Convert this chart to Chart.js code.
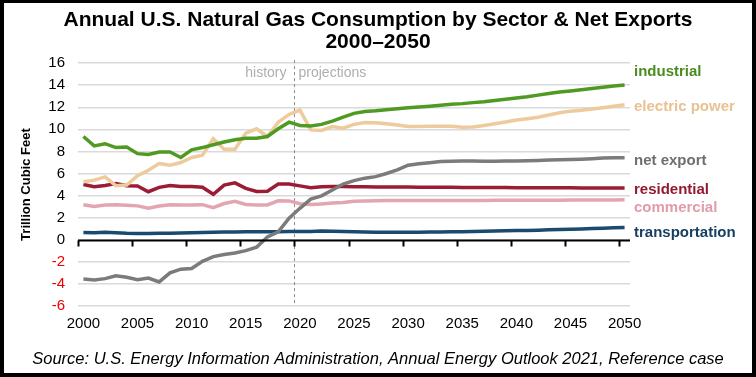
<!DOCTYPE html>
<html>
<head>
<meta charset="utf-8">
<script src="https://cdn.jsdelivr.net/npm/chart.js@4.4.1/dist/chart.umd.min.js"></script>
<style>
  html, body { margin: 0; padding: 0; background: #fff; }
  #frame { width: 756px; height: 377px; box-sizing: border-box; border: 4px solid #000; border-top-width: 3px; background: #fff; }
  canvas { display: block; }
</style>
</head>
<body>
<div id="frame"><canvas id="gasChart" width="748" height="370"></canvas></div>
<script>
// Categories (years) and series, trillion cubic feet
const years = [
    '2000', '2001', '2002', '2003', '2004', '2005', '2006', '2007', '2008', '2009',
    '2010', '2011', '2012', '2013', '2014', '2015', '2016', '2017', '2018', '2019',
    '2020', '2021', '2022', '2023', '2024', '2025', '2026', '2027', '2028', '2029',
    '2030', '2031', '2032', '2033', '2034', '2035', '2036', '2037', '2038', '2039',
    '2040', '2041', '2042', '2043', '2044', '2045', '2046', '2047', '2048', '2049',
    '2050'
];
const industrial = [
    9.35, 8.5, 8.7, 8.35, 8.4, 7.8, 7.72, 7.95, 7.95, 7.45,
    8.15, 8.35, 8.6, 8.85, 9.05, 9.2, 9.2, 9.35, 10.05, 10.65,
    10.35, 10.3, 10.45, 10.75, 11.1, 11.45, 11.62, 11.68, 11.78, 11.87,
    11.95, 12.03, 12.1, 12.18, 12.27, 12.33, 12.42, 12.5, 12.62, 12.72,
    12.84, 12.95, 13.1, 13.25, 13.38, 13.48, 13.58, 13.7, 13.82, 13.92,
    14.02
];
const electricPower = [
    5.25, 5.4, 5.7, 4.9, 4.95, 5.8, 6.3, 6.9, 6.75, 7.0,
    7.45, 7.65, 9.15, 8.2, 8.2, 9.65, 10.05, 9.35, 10.65, 11.35,
    11.75, 9.95, 9.9, 10.25, 10.1, 10.45, 10.62, 10.6, 10.5, 10.4,
    10.25, 10.25, 10.28, 10.28, 10.28, 10.18, 10.22, 10.35, 10.5, 10.67,
    10.85, 10.97, 11.09, 11.3, 11.5, 11.65, 11.72, 11.84, 11.96, 12.1,
    12.22
];
const netExport = [
    -3.56, -3.65, -3.52, -3.27, -3.4, -3.62, -3.47, -3.82, -3.0, -2.66,
    -2.6, -1.95, -1.52, -1.33, -1.2, -0.98, -0.68, 0.25, 0.72, 1.95,
    2.85, 3.68, 3.98, 4.5, 5.05, 5.36, 5.58, 5.72, 6.0, 6.33,
    6.75, 6.88, 6.98, 7.08, 7.12, 7.13, 7.13, 7.12, 7.12, 7.13,
    7.14, 7.16, 7.18, 7.22, 7.25, 7.28, 7.3, 7.34, 7.4, 7.42,
    7.42
];
const residential = [
    5.0, 4.8, 4.92, 5.1, 4.9, 4.88, 4.35, 4.75, 4.92, 4.82,
    4.82, 4.75, 4.12, 4.95, 5.15, 4.65, 4.37, 4.4, 5.05, 5.05,
    4.88, 4.72, 4.8, 4.82, 4.82, 4.8, 4.8, 4.79, 4.78, 4.78,
    4.77, 4.76, 4.76, 4.75, 4.75, 4.74, 4.74, 4.73, 4.73, 4.73,
    4.72, 4.72, 4.72, 4.71, 4.71, 4.71, 4.7, 4.7, 4.7, 4.7,
    4.7
];
const commercial = [
    3.18, 3.02, 3.15, 3.18, 3.13, 3.07, 2.85, 3.05, 3.18, 3.14,
    3.14, 3.18, 2.9, 3.28, 3.48, 3.2, 3.15, 3.16, 3.53, 3.52,
    3.27, 3.2, 3.25, 3.32, 3.38, 3.48, 3.52, 3.54, 3.55, 3.55,
    3.55, 3.55, 3.55, 3.55, 3.55, 3.55, 3.56, 3.56, 3.57, 3.57,
    3.58, 3.58, 3.58, 3.59, 3.59, 3.6, 3.6, 3.6, 3.61, 3.61,
    3.62
];
const transportation = [
    0.66, 0.64, 0.67, 0.63, 0.58, 0.56, 0.56, 0.58, 0.6, 0.62,
    0.64, 0.66, 0.68, 0.7, 0.7, 0.72, 0.72, 0.72, 0.72, 0.75,
    0.74, 0.76, 0.8, 0.78, 0.76, 0.72, 0.7, 0.68, 0.68, 0.68,
    0.68, 0.69, 0.7, 0.71, 0.72, 0.73, 0.75, 0.77, 0.79, 0.81,
    0.83, 0.85, 0.87, 0.9, 0.92, 0.95, 0.98, 1.01, 1.04, 1.08,
    1.12
];
const lastHistoryYear = '2019';

const FONT = "'Liberation Sans', Arial, sans-serif";
const NARROW = "'Liberation Sans Narrow', 'Liberation Sans', Arial, sans-serif";

// line colour, label colour and label baseline offset (px from the last point)
const series = [
    { name: 'industrial', data: industrial, line: '#4f9a22', text: '#4a8c1f', dy: -9 },
    { name: 'electric power', data: electricPower, line: '#edcb9c', text: '#e8c292', dy: 6 },
    { name: 'net export', data: netExport, line: '#7b7b7b', text: '#6f6f6f', dy: 7 },
    { name: 'residential', data: residential, line: '#9a1c35', text: '#921a31', dy: 6 },
    { name: 'commercial', data: commercial, line: '#e3a6b1', text: '#e19cab', dy: 12 },
    { name: 'transportation', data: transportation, line: '#1b4a6f', text: '#173f61', dy: 10 }
];

// history | projections divider
const dividerPlugin = {
    id: 'divider',
    beforeDatasetsDraw(chart) {
        const { ctx, chartArea, scales } = chart;
        const i = years.indexOf(lastHistoryYear);
        const x = Math.round((scales.x.getPixelForValue(i) + scales.x.getPixelForValue(i + 1)) / 2) + 0.5;
        ctx.save();
        ctx.strokeStyle = '#8a8a8a';
        ctx.lineWidth = 1;
        ctx.setLineDash([3, 3]);
        ctx.beginPath();
        ctx.moveTo(x, chartArea.top - 3);
        ctx.lineTo(x, chartArea.bottom);
        ctx.stroke();
        ctx.setLineDash([]);
        ctx.font = '14px ' + FONT;
        ctx.fillStyle = '#aeaeae';
        ctx.textBaseline = 'alphabetic';
        ctx.textAlign = 'right';
        ctx.fillText('history', x - 8, chartArea.top + 13.5);
        ctx.textAlign = 'left';
        ctx.fillText('projections', x + 4, chartArea.top + 13.5);
        ctx.restore();
    }
};

// series names at the right end of each line, plus the black zero axis with
// tick marks between categories every 5 years
const endLabelPlugin = {
    id: 'endLabels',
    afterDatasetsDraw(chart) {
        const { ctx, chartArea, scales } = chart;
        const xs = scales.x;
        const y0 = Math.round(scales.y.getPixelForValue(0)) + 0.5;
        const half = (xs.getPixelForValue(1) - xs.getPixelForValue(0)) / 2;
        ctx.save();
        ctx.strokeStyle = '#000';
        ctx.lineWidth = 2;
        ctx.beginPath();
        ctx.moveTo(chartArea.left, y0);
        ctx.lineTo(chartArea.right, y0);
        for (let i = 0; i < years.length; i += 5) {
            const px = Math.round(xs.getPixelForValue(i) - half) + 0.5;
            ctx.moveTo(px, y0);
            ctx.lineTo(px, y0 + 6);
        }
        ctx.stroke();

        ctx.font = 'bold 15px ' + FONT;
        ctx.textAlign = 'left';
        ctx.textBaseline = 'alphabetic';
        series.forEach(s => {
            const y = scales.y.getPixelForValue(s.data[s.data.length - 1]);
            ctx.fillStyle = s.text;
            ctx.fillText(s.name, chartArea.right + 4, y + s.dy);
        });
        ctx.restore();
    }
};

const initGasChart = () => {
    const ctx = document.getElementById('gasChart').getContext('2d');
    new Chart(ctx, {
        type: 'line',
        data: {
            labels: years,
            datasets: series.map(s => ({
                label: s.name,
                data: s.data,
                borderColor: s.line,
                backgroundColor: s.line,
                borderWidth: 3.5,
                pointRadius: 0,
                tension: 0,
                fill: false
            }))
        },
        options: {
            responsive: false,
            animation: false,
            devicePixelRatio: 1,
            layout: { padding: 0 },
            plugins: {
                legend: { display: false },
                tooltip: { enabled: false },
                title: {
                    display: true,
                    text: ['Annual U.S. Natural Gas Consumption by Sector & Net Exports', '2000\u20132050'],
                    color: '#000',
                    font: { family: NARROW, size: 21, weight: 'bold', lineHeight: 1.05 },
                    padding: { top: 6, bottom: 10 }
                },
                subtitle: {
                    display: true,
                    position: 'bottom',
                    text: 'Source: U.S. Energy Information Administration, Annual Energy Outlook 2021, Reference case',
                    color: '#000',
                    font: { family: FONT, size: 16.5, style: 'italic', lineHeight: 1.15 },
                    padding: { top: 0, bottom: 4 }
                }
            },
            scales: {
                x: {
                    type: 'category',
                    offset: true,
                    grid: { display: false, drawTicks: false },
                    border: { display: false },
                    ticks: {
                        autoSkip: false,
                        maxRotation: 0,
                        padding: 9,
                        color: '#000',
                        font: { family: FONT, size: 15 },
                        callback: function (value, index) {
                            return index % 5 === 0 ? this.getLabelForValue(value) : null;
                        }
                    },
                    afterFit: scale => { scale.height = 44; }
                },
                y: {
                    min: -6,
                    max: 16,
                    ticks: {
                        stepSize: 2,
                        padding: 13,
                        font: { family: FONT, size: 15 },
                        color: c => (c.tick.value < 0 ? '#ee0000' : '#000')
                    },
                    grid: {
                        drawTicks: false,
                        lineWidth: 1.5,
                        color: '#dadada'
                    },
                    border: { display: false },
                    title: {
                        display: true,
                        text: 'Trillion Cubic Feet',
                        color: '#000',
                        font: { family: FONT, size: 13, weight: 'bold' },
                        padding: { top: 15, bottom: 0 }
                    },
                    afterFit: scale => { scale.width = 74; }
                },
                yRight: {
                    type: 'linear',
                    position: 'right',
                    min: -6,
                    max: 16,
                    ticks: { display: false },
                    grid: { display: false },
                    border: { display: false },
                    afterFit: scale => { scale.width = 122; }
                }
            }
        },
        plugins: [dividerPlugin, endLabelPlugin]
    });
};

document.addEventListener('DOMContentLoaded', initGasChart);
</script>
</body>
</html>
